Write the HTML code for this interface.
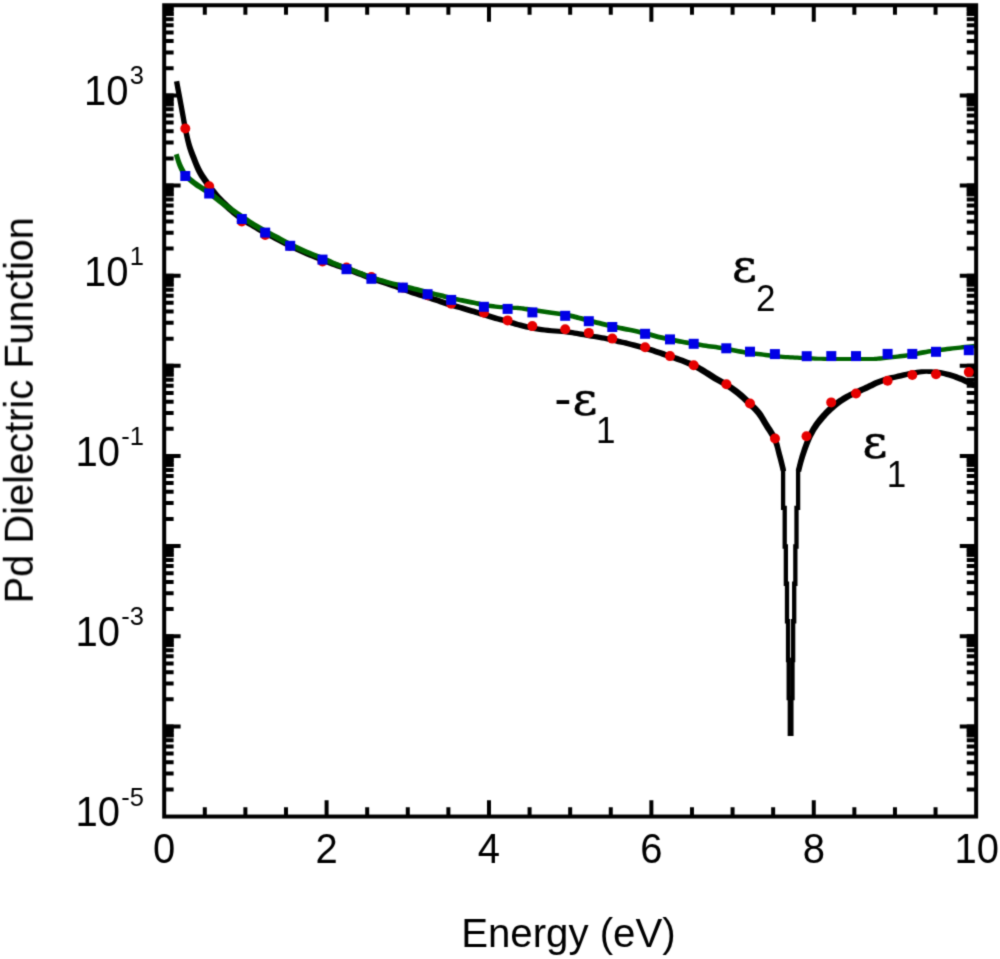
<!DOCTYPE html>
<html lang="en">
<head>
<meta charset="utf-8">
<title>Pd Dielectric Function</title>
<style>
html,body{margin:0;padding:0;background:#fff;}
body{width:1000px;height:959px;overflow:hidden;}
svg{display:block;}
</style>
</head>
<body>
<svg width="1000" height="959" viewBox="0 0 1000 959">
<rect width="1000" height="959" fill="#fff"/>
<defs><filter id="soft" x="0" y="0" width="1000" height="959" filterUnits="userSpaceOnUse" color-interpolation-filters="sRGB"><feConvolveMatrix order="3" divisor="1" edgeMode="duplicate" preserveAlpha="false" kernelMatrix="0.02560 0.10880 0.02560 0.10880 0.46240 0.10880 0.02560 0.10880 0.02560"/></filter></defs>
<g filter="url(#soft)">
<path d="M204.8 816.55v-9.4M204.8 5.25v9.4M245.39 816.55v-9.4M245.39 5.25v9.4M285.99 816.55v-9.4M285.99 5.25v9.4M326.59 816.55v-16.4M326.59 5.25v16.4M367.19 816.55v-9.4M367.19 5.25v9.4M407.79 816.55v-9.4M407.79 5.25v9.4M448.38 816.55v-9.4M448.38 5.25v9.4M488.98 816.55v-16.4M488.98 5.25v16.4M529.58 816.55v-9.4M529.58 5.25v9.4M570.17 816.55v-9.4M570.17 5.25v9.4M610.77 816.55v-9.4M610.77 5.25v9.4M651.37 816.55v-16.4M651.37 5.25v16.4M691.97 816.55v-9.4M691.97 5.25v9.4M732.57 816.55v-9.4M732.57 5.25v9.4M773.16 816.55v-9.4M773.16 5.25v9.4M813.76 816.55v-16.4M813.76 5.25v16.4M854.36 816.55v-9.4M854.36 5.25v9.4M894.96 816.55v-9.4M894.96 5.25v9.4M935.55 816.55v-9.4M935.55 5.25v9.4M164.2 789.41h9.4M976.15 789.41h-9.4M164.2 773.54h9.4M976.15 773.54h-9.4M164.2 762.28h9.4M976.15 762.28h-9.4M164.2 753.54h9.4M976.15 753.54h-9.4M164.2 746.4h9.4M976.15 746.4h-9.4M164.2 740.37h9.4M976.15 740.37h-9.4M164.2 735.14h9.4M976.15 735.14h-9.4M164.2 730.53h9.4M976.15 730.53h-9.4M164.2 726.41h16.4M976.15 726.41h-16.4M164.2 699.27h9.4M976.15 699.27h-9.4M164.2 683.4h9.4M976.15 683.4h-9.4M164.2 672.13h9.4M976.15 672.13h-9.4M164.2 663.4h9.4M976.15 663.4h-9.4M164.2 656.26h9.4M976.15 656.26h-9.4M164.2 650.22h9.4M976.15 650.22h-9.4M164.2 645h9.4M976.15 645h-9.4M164.2 640.39h9.4M976.15 640.39h-9.4M164.2 636.26h16.4M976.15 636.26h-16.4M164.2 609.12h9.4M976.15 609.12h-9.4M164.2 593.25h9.4M976.15 593.25h-9.4M164.2 581.99h9.4M976.15 581.99h-9.4M164.2 573.25h9.4M976.15 573.25h-9.4M164.2 566.12h9.4M976.15 566.12h-9.4M164.2 560.08h9.4M976.15 560.08h-9.4M164.2 554.85h9.4M976.15 554.85h-9.4M164.2 550.24h9.4M976.15 550.24h-9.4M164.2 546.12h16.4M976.15 546.12h-16.4M164.2 518.98h9.4M976.15 518.98h-9.4M164.2 503.11h9.4M976.15 503.11h-9.4M164.2 491.84h9.4M976.15 491.84h-9.4M164.2 483.11h9.4M976.15 483.11h-9.4M164.2 475.97h9.4M976.15 475.97h-9.4M164.2 469.94h9.4M976.15 469.94h-9.4M164.2 464.71h9.4M976.15 464.71h-9.4M164.2 460.1h9.4M976.15 460.1h-9.4M164.2 455.97h16.4M976.15 455.97h-16.4M164.2 428.84h9.4M976.15 428.84h-9.4M164.2 412.96h9.4M976.15 412.96h-9.4M164.2 401.7h9.4M976.15 401.7h-9.4M164.2 392.96h9.4M976.15 392.96h-9.4M164.2 385.83h9.4M976.15 385.83h-9.4M164.2 379.79h9.4M976.15 379.79h-9.4M164.2 374.56h9.4M976.15 374.56h-9.4M164.2 369.95h9.4M976.15 369.95h-9.4M164.2 365.83h16.4M976.15 365.83h-16.4M164.2 338.69h9.4M976.15 338.69h-9.4M164.2 322.82h9.4M976.15 322.82h-9.4M164.2 311.56h9.4M976.15 311.56h-9.4M164.2 302.82h9.4M976.15 302.82h-9.4M164.2 295.68h9.4M976.15 295.68h-9.4M164.2 289.65h9.4M976.15 289.65h-9.4M164.2 284.42h9.4M976.15 284.42h-9.4M164.2 279.81h9.4M976.15 279.81h-9.4M164.2 275.68h16.4M976.15 275.68h-16.4M164.2 248.55h9.4M976.15 248.55h-9.4M164.2 232.67h9.4M976.15 232.67h-9.4M164.2 221.41h9.4M976.15 221.41h-9.4M164.2 212.68h9.4M976.15 212.68h-9.4M164.2 205.54h9.4M976.15 205.54h-9.4M164.2 199.5h9.4M976.15 199.5h-9.4M164.2 194.27h9.4M976.15 194.27h-9.4M164.2 189.66h9.4M976.15 189.66h-9.4M164.2 185.54h16.4M976.15 185.54h-16.4M164.2 158.4h9.4M976.15 158.4h-9.4M164.2 142.53h9.4M976.15 142.53h-9.4M164.2 131.27h9.4M976.15 131.27h-9.4M164.2 122.53h9.4M976.15 122.53h-9.4M164.2 115.39h9.4M976.15 115.39h-9.4M164.2 109.36h9.4M976.15 109.36h-9.4M164.2 104.13h9.4M976.15 104.13h-9.4M164.2 99.52h9.4M976.15 99.52h-9.4M164.2 95.39h16.4M976.15 95.39h-16.4M164.2 68.26h9.4M976.15 68.26h-9.4M164.2 52.38h9.4M976.15 52.38h-9.4M164.2 41.12h9.4M976.15 41.12h-9.4M164.2 32.39h9.4M976.15 32.39h-9.4M164.2 25.25h9.4M976.15 25.25h-9.4M164.2 19.21h9.4M976.15 19.21h-9.4M164.2 13.99h9.4M976.15 13.99h-9.4M164.2 9.37h9.4M976.15 9.37h-9.4" stroke="#000" stroke-width="4.0" fill="none"/>
<path d="M164.2 724.41h9.4v12.74h-9.4zM976.15 724.41h-9.4v12.74h9.4zM164.2 634.26h9.4v12.74h-9.4zM976.15 634.26h-9.4v12.74h9.4zM164.2 544.12h9.4v12.74h-9.4zM976.15 544.12h-9.4v12.74h9.4zM164.2 453.97h9.4v12.74h-9.4zM976.15 453.97h-9.4v12.74h9.4zM164.2 363.83h9.4v12.74h-9.4zM976.15 363.83h-9.4v12.74h9.4zM164.2 273.68h9.4v12.74h-9.4zM976.15 273.68h-9.4v12.74h9.4zM164.2 183.54h9.4v12.74h-9.4zM976.15 183.54h-9.4v12.74h9.4zM164.2 93.39h9.4v12.74h-9.4zM976.15 93.39h-9.4v12.74h9.4zM164.2 5.25h9.4v10.74h-9.4zM976.15 5.25h-9.4v10.74h9.4z" fill="#000"/>
<g fill="none" stroke-linejoin="round" stroke-linecap="butt">
<path d="M173.97 81.79L174.39 84.1L175 87.38L175.7 91.18L176.41 95.07L177.06 98.59L177.64 101.71L178.21 104.74L178.76 107.72L179.31 110.68L179.87 113.69L180.42 116.69L180.95 119.71L181.48 122.76L182.03 125.86L182.64 129.05L183.32 132.33L184.03 135.75L184.78 139.2L185.56 142.58L186.37 145.78L187.21 148.74L188.1 151.5L189.04 154.13L190.01 156.7L191.02 159.29L192.07 161.96L193.15 164.71L194.27 167.46L195.43 170.15L196.65 172.73L198 175.25L199.47 177.63L200.92 179.82L202.25 181.76L203.33 183.34L204.08 184.48L204.56 185.25L205.02 186L205.65 186.93L206.64 188.25L208.02 190.08L209.72 192.32L211.63 194.8L213.68 197.34L215.8 199.79L217.94 202.08L220.18 204.34L222.49 206.58L224.86 208.78L227.25 210.93L229.7 213.06L232.22 215.18L234.79 217.25L237.37 219.24L239.94 221.11L242.54 222.84L245.1 224.43L247.61 225.91L250.05 227.32L252.38 228.71L254.67 230.07L256.88 231.38L259.08 232.65L261.33 233.93L263.69 235.24L266.21 236.58L268.8 237.93L271.43 239.29L274.03 240.63L276.56 241.95L278.95 243.23L281.28 244.48L283.64 245.73L286.12 247.02L288.84 248.36L291.77 249.79L294.91 251.29L298.17 252.82L301.49 254.33L304.8 255.78L308.19 257.17L311.65 258.55L315.09 259.89L318.37 261.17L321.38 262.38L324.09 263.49L326.59 264.54L328.98 265.53L331.34 266.47L333.76 267.37L336.21 268.22L338.59 268.99L340.9 269.75L343.19 270.53L345.48 271.37L347.85 272.28L350.27 273.24L352.72 274.22L355.21 275.2L357.73 276.17L360.11 277.11L362.44 278.03L364.85 278.95L367.47 279.92L370.42 280.97L373.9 282.14L377.77 283.42L381.78 284.74L385.65 286.01L389.07 287.16L392.02 288.16L394.67 289.06L397.12 289.91L399.46 290.73L401.81 291.57L404.05 292.43L406.2 293.27L408.35 294.1L410.61 294.93L413.06 295.76L415.71 296.59L418.47 297.42L421.28 298.26L424.06 299.11L426.72 299.95L429.35 300.81L431.97 301.67L434.55 302.52L437.07 303.36L439.49 304.16L441.75 304.93L443.92 305.68L446.04 306.39L448.18 307.08L450.36 307.75L452.57 308.36L454.73 308.94L456.87 309.51L459.02 310.1L461.21 310.74L463.54 311.43L465.99 312.17L468.46 312.92L470.88 313.65L473.17 314.34L475.26 314.97L477.2 315.56L479.08 316.13L481 316.72L483.06 317.35L485.26 318.04L487.57 318.77L489.96 319.51L492.38 320.24L494.82 320.93L497.28 321.59L499.75 322.22L502.2 322.85L504.57 323.49L506.82 324.13L508.86 324.79L510.79 325.43L512.76 326.06L514.88 326.69L517.27 327.32L519.86 328L522.65 328.7L525.58 329.4L528.61 330.06L531.69 330.65L534.77 331.18L537.92 331.68L541.13 332.14L544.39 332.55L547.71 332.93L551.23 333.22L554.87 333.48L558.49 333.72L561.9 333.99L564.94 334.31L567.57 334.64L569.88 334.96L572.01 335.29L574.13 335.64L576.38 336L578.69 336.43L581.01 336.88L583.39 337.33L585.83 337.79L588.34 338.22L590.98 338.65L593.71 339.09L596.45 339.54L599.09 339.99L601.53 340.43L603.78 340.85L605.91 341.26L607.91 341.66L609.8 342.07L611.6 342.48L613.24 342.91L614.76 343.33L616.24 343.74L617.75 344.13L619.35 344.5L620.87 344.8L622.21 345.06L623.56 345.36L625.18 345.75L627.31 346.31L630.2 347.07L633.66 347.99L637.39 348.99L641.05 350L644.32 350.93L647.15 351.78L649.76 352.58L652.23 353.37L654.65 354.15L657.09 354.96L659.51 355.79L661.89 356.63L664.26 357.48L666.63 358.32L669.03 359.17L671.46 359.99L673.87 360.81L676.26 361.64L678.62 362.49L680.95 363.37L683.33 364.28L685.7 365.21L688.02 366.17L690.26 367.15L692.37 368.17L694.33 369.19L696.18 370.23L698.01 371.32L699.92 372.47L701.97 373.71L704.09 375.03L706.33 376.47L708.65 377.96L711 379.46L713.36 380.9L715.72 382.25L718.02 383.53L720.26 384.78L722.47 386.08L724.68 387.47L727.01 389L729.37 390.6L731.73 392.27L734.07 394L736.36 395.81L738.66 397.76L741.01 399.86L743.35 402.03L745.61 404.19L747.74 406.24L749.72 408.13L751.53 409.86L753.19 411.51L754.74 413.18L756.25 414.98L757.68 416.91L759.06 419L760.43 421.27L761.85 423.72L763.4 426.35L765.17 429.17L767.06 432.07L768.94 434.99L770.67 437.84L772.13 440.54L773.29 443.19L774.24 445.91L775.04 448.73L775.75 451.64L776.47 454.65L777.31 457.72L778.17 460.99L778.98 464.18L779.67 466.99L780.2 469.15L780.54 470.43L780.76 471L781.05 470.99L781 471.01L780.77 471.77L786.03 470.83L785.77 471.2L785.73 470.91L785.95 470.21L785.88 469.29L785.6 467.85L785.07 465.68L784.38 462.84L783.59 459.62L782.75 456.3L781.93 453.15L781.15 450.32L780.44 447.39L779.7 444.37L778.82 441.25L777.67 438.06L776.14 434.82L774.32 431.66L772.4 428.6L770.5 425.7L768.8 423.05L767.28 420.54L765.86 418.1L764.45 415.7L762.98 413.34L761.35 411.02L759.62 408.9L757.86 406.98L756.06 405.19L754.2 403.42L752.26 401.56L750.12 399.5L747.81 397.3L745.39 395.06L742.92 392.86L740.44 390.79L737.96 388.87L735.47 387.05L732.98 385.32L730.52 383.69L728.12 382.13L725.69 380.66L723.33 379.32L721.05 378.06L718.82 376.8L716.64 375.5L714.39 374.09L712.09 372.61L709.77 371.12L707.47 369.66L705.23 368.29L703.18 367.06L701.22 365.89L699.26 364.78L697.22 363.69L695.03 362.63L692.7 361.6L690.31 360.62L687.88 359.66L685.45 358.73L683.05 357.83L680.61 356.95L678.18 356.11L675.76 355.29L673.35 354.47L670.97 353.63L668.6 352.79L666.23 351.94L663.84 351.1L661.41 350.26L658.91 349.44L656.44 348.64L653.98 347.86L651.45 347.09L648.78 346.29L645.88 345.47L642.56 344.55L638.86 343.55L635.11 342.55L631.61 341.64L628.69 340.89L626.44 340.37L624.71 340.02L623.29 339.74L622.02 339.46L620.65 339.1L619.18 338.7L617.72 338.29L616.21 337.89L614.58 337.5L612.8 337.12L610.92 336.74L608.97 336.36L606.92 335.97L604.76 335.58L602.47 335.17L599.97 334.76L597.3 334.33L594.56 333.88L591.84 333.43L589.26 332.98L586.81 332.51L584.4 332.05L582.01 331.6L579.62 331.17L577.22 330.8L574.96 330.44L572.79 330.12L570.57 329.83L568.17 329.56L565.46 329.29L562.29 329.06L558.83 328.83L555.22 328.57L551.65 328.26L548.29 327.87L545.05 327.45L541.87 326.98L538.75 326.48L535.7 325.94L532.71 325.35L529.78 324.71L526.86 324.01L524.01 323.29L521.28 322.57L518.73 321.88L516.52 321.2L514.53 320.55L512.59 319.91L510.58 319.29L508.38 318.67L506.02 318.05L503.6 317.43L501.16 316.8L498.74 316.14L496.38 315.47L494.04 314.75L491.67 314.01L489.3 313.26L486.98 312.54L484.74 311.85L482.67 311.23L480.74 310.64L478.85 310.07L476.91 309.48L474.83 308.86L472.55 308.16L470.13 307.43L467.64 306.68L465.17 305.95L462.79 305.26L460.51 304.65L458.32 304.07L456.2 303.49L454.11 302.9L452.04 302.25L449.97 301.57L447.91 300.87L445.81 300.15L443.63 299.41L441.31 298.64L438.9 297.84L436.38 297L433.78 296.15L431.14 295.29L428.48 294.45L425.73 293.61L422.92 292.78L420.14 291.94L417.45 291.09L414.94 290.24L412.65 289.39L410.49 288.56L408.36 287.72L406.16 286.88L403.79 286.03L401.41 285.2L399.03 284.38L396.55 283.54L393.89 282.64L390.93 281.64L387.47 280.49L383.59 279.22L379.6 277.91L375.76 276.62L372.38 275.43L369.51 274.38L366.98 273.41L364.62 272.48L362.3 271.56L359.87 270.63L357.41 269.65L354.93 268.67L352.46 267.69L349.98 266.73L347.52 265.83L345.07 265L342.71 264.23L340.4 263.48L338.12 262.69L335.84 261.83L333.55 260.91L331.27 259.97L328.91 258.99L326.39 257.94L323.62 256.82L320.54 255.62L317.25 254.34L313.85 253L310.46 251.62L307.2 250.22L303.99 248.78L300.75 247.28L297.55 245.76L294.46 244.26L291.56 242.84L288.95 241.51L286.54 240.23L284.22 238.99L281.89 237.74L279.44 236.45L276.88 235.12L274.27 233.78L271.67 232.43L269.13 231.09L266.71 229.76L264.41 228.47L262.23 227.21L260.07 225.95L257.89 224.65L255.62 223.29L253.21 221.89L250.79 220.48L248.38 219.03L246 217.51L243.66 215.89L241.26 214.1L238.81 212.19L236.35 210.19L233.92 208.14L231.55 206.07L229.24 203.99L226.97 201.86L224.75 199.72L222.62 197.56L220.6 195.41L218.65 193.18L216.7 190.79L214.84 188.41L213.17 186.21L211.76 184.35L210.83 183.12L210.31 182.42L209.93 181.89L209.45 181.11L208.67 179.86L207.52 178.13L206.2 176.21L204.8 174.15L203.42 172.01L202.15 169.87L200.97 167.57L199.82 165.08L198.7 162.46L197.62 159.78L196.58 157.11L195.56 154.54L194.59 152.04L193.64 149.54L192.72 146.96L191.83 144.22L190.97 141.21L190.16 137.96L189.38 134.59L188.65 131.22L187.96 127.95L187.32 124.86L186.74 121.81L186.19 118.79L185.67 115.77L185.13 112.71L184.58 109.71L184.03 106.74L183.48 103.76L182.92 100.74L182.34 97.61L181.68 94.09L180.97 90.21L180.27 86.41L179.66 83.13L179.23 80.81Z" fill="#000" stroke="none"/>
<path d="M801.11 471.99L801.51 470.32L802.07 468.01L802.75 465.33L803.49 462.56L804.24 460L805 457.54L805.82 455.02L806.67 452.49L807.52 450.04L808.37 447.7L809.19 445.5L810 443.42L810.82 441.43L811.67 439.5L812.57 437.61L813.52 435.73L814.5 433.88L815.52 432.08L816.57 430.33L817.67 428.63L818.81 427L820.02 425.37L821.27 423.76L822.54 422.19L823.79 420.67L825 419.25L826.2 417.9L827.39 416.59L828.6 415.33L829.81 414.09L831 412.9L832.15 411.79L833.31 410.71L834.53 409.63L835.86 408.5L837.34 407.29L838.93 406.04L840.58 404.79L842.24 403.58L843.85 402.46L845.43 401.43L847.03 400.45L848.65 399.52L850.28 398.62L851.92 397.75L853.47 396.95L855.03 396.2L856.64 395.48L858.31 394.74L860.07 393.97L861.84 393.16L863.66 392.34L865.52 391.49L867.41 390.64L869.3 389.77L871.22 388.87L873.09 387.94L874.93 387.01L876.74 386.12L878.55 385.28L880.46 384.48L882.41 383.72L884.4 382.99L886.4 382.3L888.42 381.64L890.37 381.04L892.3 380.51L894.31 380.02L896.46 379.52L898.82 378.99L901.46 378.38L904.32 377.71L907.26 377.03L910.13 376.39L912.78 375.83L915.25 375.38L917.56 374.95L919.75 374.58L921.91 374.25L924.11 374L926.41 373.85L928.76 373.94L931.12 374.12L933.45 374.35L935.71 374.63L937.86 374.97L939.94 375.38L941.99 375.84L944.06 376.35L946.2 376.91L948.41 377.58L950.74 378.32L953.07 379.11L955.32 379.91L957.38 380.67L959.15 381.39L960.75 382.1L962.27 382.8L963.8 383.52L965.41 384.27L967.15 385.12L969.05 386.06L970.89 386.99L972.48 387.79L973.64 388.36L976.36 382.84L975.26 382.28L973.67 381.47L971.79 380.54L969.84 379.59L967.99 378.73L966.38 377.98L964.8 377.26L963.15 376.55L961.38 375.84L959.42 375.13L957.27 374.37L954.93 373.59L952.48 372.82L950.01 372.1L947.6 371.49L945.34 370.96L943.11 370.5L940.89 370.12L938.62 369.81L936.29 369.57L933.89 369.38L931.41 369.25L928.9 369.2L926.39 369.23L923.89 369.2L921.45 369.27L919.08 369.46L916.72 369.75L914.32 370.13L911.82 370.57L909.03 371.07L906.07 371.68L903.09 372.34L900.21 373L897.58 373.61L895.24 374.15L893.07 374.64L890.98 375.11L888.91 375.6L886.78 376.16L884.64 376.79L882.51 377.46L880.4 378.18L878.31 378.93L876.25 379.72L874.19 380.58L872.22 381.49L870.32 382.42L868.49 383.34L866.7 384.23L864.86 385.09L863 385.95L861.15 386.79L859.32 387.62L857.53 388.43L855.86 389.2L854.2 389.93L852.53 390.65L850.83 391.41L849.08 392.25L847.37 393.13L845.64 394.04L843.88 395.01L842.12 396.04L840.35 397.14L838.56 398.33L836.77 399.61L835.01 400.92L833.32 402.23L831.74 403.5L830.29 404.71L828.95 405.89L827.68 407.07L826.44 408.26L825.19 409.51L823.91 410.81L822.64 412.16L821.37 413.55L820.09 415.01L818.81 416.53L817.52 418.1L816.2 419.76L814.87 421.49L813.57 423.3L812.33 425.17L811.17 427.05L810.07 428.98L809.01 430.95L808 432.95L807.03 434.99L806.12 437.06L805.27 439.15L804.45 441.26L803.65 443.44L802.83 445.7L801.99 448.11L801.14 450.64L800.31 453.24L799.51 455.84L798.76 458.4L798.05 461.11L797.33 463.97L796.67 466.69L796.11 469L795.69 470.61Z" fill="#000" stroke="none"/>
<path d="M782.9 468.5L783.1 471.3L783.1 507.8L784.7 507.8L784.7 546.5L785.85 546.5L785.85 583.75L787 583.75L787 621.25L788.05 621.25L788.05 660L788.7 660L788.7 698L789.8 698L789.8 736" stroke="#000" stroke-width="4.3" stroke-linejoin="miter"/>
<path d="M801.5 459.2L798.1 471.3L798.1 507.8L796.5 507.8L796.5 546.5L795.35 546.5L795.35 583.75L794.2 583.75L794.2 621.25L793.15 621.25L793.15 660L792.5 660L792.5 698L791.4 698L791.4 736" stroke="#000" stroke-width="4.3" stroke-linejoin="miter"/>
</g>
<g fill="rgb(230,0,0)">
<circle cx="185.3" cy="128.5" r="5.0"/>
<circle cx="209.2" cy="186.3" r="5.0"/>
<circle cx="241.8" cy="221.4" r="5.0"/>
<circle cx="265.2" cy="235" r="5.0"/>
<circle cx="290.2" cy="246" r="5.0"/>
<circle cx="322.5" cy="261.5" r="5.0"/>
<circle cx="346.5" cy="267.5" r="5.0"/>
<circle cx="371.4" cy="277" r="5.0"/>
<circle cx="402.8" cy="287.8" r="5.0"/>
<circle cx="427.6" cy="295.2" r="5.0"/>
<circle cx="451.2" cy="303.8" r="5.0"/>
<circle cx="483.9" cy="312.8" r="5.0"/>
<circle cx="507.6" cy="320.4" r="5.0"/>
<circle cx="532.3" cy="326.1" r="5.0"/>
<circle cx="565.2" cy="329.2" r="5.0"/>
<circle cx="588.8" cy="332.9" r="5.0"/>
<circle cx="612.3" cy="338.6" r="5.0"/>
<circle cx="645.1" cy="347.2" r="5.0"/>
<circle cx="670" cy="356.1" r="5.0"/>
<circle cx="693.7" cy="365.2" r="5.0"/>
<circle cx="726.4" cy="384.3" r="5.0"/>
<circle cx="750" cy="403.5" r="5.0"/>
<circle cx="775" cy="438.5" r="5.0"/>
<circle cx="806.5" cy="436.3" r="5.0"/>
<circle cx="831.2" cy="402.4" r="5.0"/>
<circle cx="856" cy="393.5" r="5.0"/>
<circle cx="887.6" cy="380.8" r="5.0"/>
<circle cx="912.3" cy="375" r="5.0"/>
<circle cx="936" cy="374.2" r="5.0"/>
<circle cx="968.8" cy="372.1" r="5.0"/>
</g>
<path d="M173.9 155.08L174.35 156.41L174.93 158.41L175.63 160.8L176.42 163.31L177.29 165.74L178.22 167.91L179.24 170.17L180.36 172.45L181.63 174.7L183.09 176.84L184.82 178.81L186.69 180.55L188.58 182.1L190.41 183.52L192.05 184.8L193.7 186.04L195.28 187.14L196.79 188.15L198.27 189.12L199.76 190.11L201.34 191.11L202.85 192.04L204.35 192.97L205.89 193.99L207.57 195.17L209.5 196.6L211.63 198.25L213.87 200L216.12 201.76L218.31 203.44L220.34 204.96L222.3 206.43L224.25 207.88L226.25 209.34L228.38 210.87L230.63 212.47L232.98 214.11L235.38 215.78L237.82 217.45L240.25 219.1L242.68 220.74L245.16 222.4L247.66 224.04L250.13 225.63L252.56 227.14L254.88 228.53L257.12 229.82L259.32 231.06L261.56 232.3L263.89 233.58L266.38 234.93L268.97 236.3L271.59 237.68L274.2 239.05L276.74 240.39L279.14 241.68L281.47 242.93L283.83 244.18L286.31 245.46L289.02 246.8L291.95 248.23L295.08 249.73L298.33 251.26L301.65 252.77L304.95 254.21L308.34 255.6L311.81 256.97L315.23 258.3L318.5 259.58L321.49 260.81L324.17 261.99L326.66 263.11L329.03 264.2L331.4 265.23L333.83 266.21L336.28 267.12L338.66 267.94L340.98 268.74L343.28 269.55L345.6 270.41L347.98 271.33L350.41 272.29L352.87 273.26L355.36 274.24L357.87 275.21L360.23 276.16L362.56 277.11L364.98 278.05L367.62 279.01L370.62 280L374.1 281.07L377.99 282.21L382.02 283.36L385.9 284.44L389.37 285.37L392.38 286.11L395.08 286.72L397.56 287.26L399.91 287.78L402.23 288.35L404.53 288.91L406.7 289.45L408.83 289.99L411.03 290.55L413.39 291.16L415.95 291.84L418.67 292.58L421.47 293.33L424.27 294.07L427.01 294.75L429.69 295.38L432.34 295.99L434.93 296.58L437.44 297.16L439.82 297.75L442.07 298.34L444.22 298.93L446.34 299.5L448.47 300.04L450.66 300.54L452.85 301L455 301.42L457.14 301.84L459.31 302.26L461.53 302.71L463.9 303.18L466.36 303.67L468.83 304.16L471.25 304.64L473.52 305.11L475.57 305.57L477.5 306.01L479.4 306.43L481.37 306.82L483.5 307.18L485.75 307.55L488.09 307.9L490.5 308.23L492.93 308.53L495.36 308.79L497.81 309L500.3 309.17L502.76 309.33L505.17 309.47L507.47 309.62L509.75 309.71L512 309.8L514.15 309.88L516.12 309.99L517.84 310.13L519.24 310.28L520.35 310.44L521.34 310.6L522.4 310.76L523.69 310.93L525.06 311.16L526.48 311.4L528.04 311.65L529.87 311.93L532.07 312.24L534.72 312.61L537.73 313.03L540.99 313.48L544.35 313.96L547.67 314.44L551.17 314.96L554.93 315.52L558.65 316.09L562.05 316.61L564.83 317.07L566.83 317.41L568.23 317.68L569.27 317.91L570.26 318.15L571.47 318.44L572.79 318.78L574.11 319.15L575.48 319.53L576.95 319.94L578.57 320.37L580.25 320.84L582.04 321.33L583.94 321.85L585.98 322.39L588.2 322.96L590.68 323.56L593.4 324.22L596.2 324.89L598.93 325.54L601.43 326.15L603.65 326.7L605.73 327.22L607.71 327.71L609.67 328.18L611.66 328.64L613.63 329.07L615.54 329.48L617.45 329.88L619.43 330.28L621.52 330.71L623.82 331.16L626.24 331.63L628.71 332.12L631.15 332.61L633.5 333.12L635.73 333.62L637.88 334.12L640.02 334.64L642.2 335.17L644.51 335.75L646.95 336.41L649.53 337.11L652.18 337.83L654.83 338.52L657.43 339.15L659.93 339.71L662.36 340.23L664.76 340.73L667.14 341.22L669.52 341.72L671.93 342.21L674.34 342.7L676.76 343.19L679.17 343.65L681.57 344.09L683.95 344.51L686.28 344.9L688.61 345.29L690.95 345.68L693.32 346.07L695.74 346.48L698.21 346.89L700.7 347.29L703.2 347.68L705.67 348.05L708.18 348.38L710.71 348.7L713.19 349.01L715.54 349.33L717.67 349.65L719.51 349.93L721.08 350.19L722.56 350.45L724.13 350.75L725.97 351.09L728.11 351.53L730.48 352.03L732.98 352.54L735.51 353.04L737.98 353.49L740.31 353.9L742.6 354.29L744.9 354.66L747.25 355L749.69 355.33L752.3 355.63L755 355.92L757.72 356.21L760.39 356.5L762.93 356.81L765.32 357.13L767.61 357.45L769.89 357.76L772.22 358.04L774.67 358.29L777.25 358.52L779.92 358.75L782.62 358.96L785.29 359.15L787.85 359.33L790.25 359.46L792.51 359.56L794.73 359.66L797.05 359.76L799.59 359.9L802.4 360.06L805.4 360.23L808.53 360.4L811.72 360.55L814.92 360.67L817.98 360.78L820.95 360.87L824.03 360.93L827.38 360.98L831.18 361.02L835.74 361.03L840.94 361.03L846.31 361.02L851.42 361.01L855.8 361L859.4 361.01L862.52 361.02L865.26 361.02L867.73 361.03L870.03 361.03L872 361L873.6 360.99L875.04 360.98L876.5 360.93L878.17 360.84L880.06 360.71L882.01 360.53L884.02 360.3L886.1 360.05L888.24 359.79L890.49 359.54L892.87 359.3L895.32 359.05L897.8 358.79L900.27 358.51L902.69 358.22L905.11 357.92L907.57 357.61L910.08 357.26L912.68 356.87L915.47 356.4L918.37 355.84L921.27 355.24L924.02 354.67L926.48 354.17L928.59 353.8L930.42 353.52L932.19 353.3L934.08 353.08L936.3 352.83L938.87 352.48L941.68 352.09L944.61 351.69L947.52 351.28L950.27 350.91L952.87 350.59L955.39 350.29L957.88 350.02L960.35 349.75L962.84 349.49L965.52 349.2L968.4 348.9L971.17 348.61L973.54 348.36L975.23 348.19L974.77 343.81L973.09 343.99L970.72 344.24L967.94 344.53L965.06 344.83L962.36 345.11L959.88 345.38L957.41 345.64L954.91 345.91L952.36 346.18L949.73 346.49L946.93 346.83L944 347.22L941.06 347.62L938.25 348.02L935.7 348.37L933.56 348.67L931.68 348.89L929.87 349.09L927.94 349.32L925.72 349.63L923.12 350.06L920.31 350.61L917.42 351.21L914.58 351.8L911.92 352.33L909.4 352.76L906.95 353.14L904.54 353.48L902.14 353.79L899.73 354.09L897.3 354.39L894.85 354.67L892.42 354.93L890.04 355.17L887.76 355.41L885.58 355.64L883.5 355.89L881.51 356.13L879.62 356.36L877.83 356.56L876.24 356.7L874.86 356.81L873.5 356.89L871.93 356.94L869.97 356.97L867.71 357.01L865.27 357.02L862.53 357.01L859.41 357L855.8 357L851.41 357L846.3 357.01L840.93 357.03L835.75 357.02L831.22 356.98L827.44 356.92L824.12 356.84L821.07 356.75L818.12 356.64L815.08 356.53L811.92 356.37L808.76 356.2L805.64 356.02L802.63 355.85L799.81 355.7L797.25 355.59L794.92 355.48L792.71 355.37L790.49 355.24L788.15 355.07L785.6 354.88L782.96 354.67L780.29 354.44L777.66 354.18L775.13 353.91L772.77 353.61L770.49 353.3L768.23 352.99L765.91 352.68L763.47 352.39L760.87 352.11L758.18 351.83L755.48 351.54L752.82 351.22L750.31 350.87L747.92 350.5L745.63 350.13L743.38 349.74L741.13 349.33L738.82 348.91L736.42 348.43L733.93 347.91L731.44 347.4L729.04 346.92L726.83 346.51L724.96 346.17L723.34 345.9L721.81 345.66L720.2 345.42L718.33 345.15L716.13 344.87L713.76 344.58L711.28 344.26L708.78 343.92L706.33 343.55L703.9 343.17L701.44 342.76L698.97 342.35L696.51 341.93L694.08 341.53L691.7 341.14L689.37 340.75L687.06 340.35L684.75 339.94L682.43 339.51L680.06 339.05L677.68 338.57L675.28 338.08L672.88 337.58L670.48 337.08L668.09 336.59L665.73 336.1L663.37 335.58L660.99 335.04L658.57 334.45L656.06 333.8L653.46 333.09L650.82 332.37L648.21 331.68L645.69 331.05L643.35 330.48L641.13 329.95L638.96 329.45L636.77 328.96L634.5 328.48L632.09 327.99L629.61 327.51L627.13 327.03L624.73 326.55L622.48 326.09L620.39 325.65L618.43 325.24L616.54 324.83L614.67 324.41L612.74 323.96L610.8 323.49L608.87 323.01L606.9 322.52L604.82 322L602.57 321.45L600.06 320.85L597.32 320.2L594.53 319.52L591.83 318.86L589.4 318.24L587.24 317.67L585.23 317.11L583.35 316.59L581.56 316.09L579.83 315.63L578.25 315.2L576.78 314.79L575.37 314.42L573.97 314.08L572.53 313.76L571.3 313.49L570.23 313.28L569.07 313.09L567.6 312.86L565.57 312.53L562.75 312.1L559.33 311.58L555.6 311.03L551.84 310.47L548.33 309.96L544.98 309.48L541.61 309.01L538.36 308.56L535.35 308.14L532.73 307.76L530.57 307.42L528.77 307.12L527.21 306.87L525.76 306.65L524.31 306.47L523.04 306.28L521.94 306.14L520.85 306.04L519.64 305.95L518.16 305.87L516.33 305.8L514.32 305.73L512.17 305.64L509.95 305.53L507.73 305.38L505.43 305.24L503.04 305.09L500.61 304.9L498.2 304.68L495.84 304.41L493.49 304.1L491.13 303.76L488.78 303.39L486.49 303.01L484.3 302.62L482.3 302.2L480.42 301.78L478.55 301.35L476.6 300.92L474.48 300.49L472.18 300.03L469.75 299.55L467.27 299.05L464.82 298.57L462.47 298.09L460.21 297.65L458.04 297.23L455.93 296.8L453.84 296.35L451.74 295.86L449.67 295.33L447.61 294.77L445.5 294.2L443.31 293.62L440.98 293.05L438.53 292.48L435.99 291.91L433.41 291.32L430.8 290.7L428.19 290.05L425.51 289.34L422.74 288.6L419.94 287.84L417.21 287.11L414.61 286.44L412.23 285.84L410.02 285.28L407.86 284.74L405.68 284.21L403.37 283.65L400.96 283.12L398.58 282.6L396.14 282.05L393.53 281.41L390.63 280.63L387.21 279.69L383.36 278.61L379.38 277.45L375.56 276.29L372.18 275.2L369.36 274.19L366.85 273.22L364.5 272.28L362.18 271.34L359.73 270.39L357.26 269.42L354.78 268.44L352.31 267.46L349.85 266.51L347.4 265.59L344.98 264.73L342.63 263.93L340.33 263.13L338.06 262.3L335.77 261.39L333.49 260.4L331.22 259.37L328.85 258.29L326.3 257.16L323.51 255.99L320.41 254.76L317.11 253.47L313.7 252.14L310.3 250.78L307.05 249.39L303.83 247.94L300.58 246.44L297.38 244.92L294.29 243.42L291.38 242L288.77 240.67L286.35 239.4L284.03 238.15L281.7 236.9L279.26 235.61L276.71 234.27L274.1 232.9L271.5 231.52L268.95 230.16L266.51 228.82L264.19 227.54L261.98 226.31L259.83 225.09L257.68 223.82L255.44 222.46L253.1 220.98L250.69 219.41L248.24 217.78L245.78 216.14L243.35 214.5L240.95 212.87L238.55 211.21L236.17 209.55L233.85 207.92L231.62 206.33L229.54 204.82L227.57 203.38L225.65 201.94L223.71 200.49L221.69 198.96L219.57 197.33L217.33 195.58L215.07 193.82L212.88 192.14L210.83 190.63L208.96 189.37L207.28 188.3L205.73 187.35L204.27 186.44L202.84 185.49L201.31 184.49L199.85 183.53L198.43 182.56L197.01 181.54L195.55 180.4L193.83 179.07L192.08 177.71L190.39 176.29L188.84 174.84L187.51 173.36L186.29 171.71L185.13 169.85L184.05 167.83L183.04 165.75L182.11 163.66L181.23 161.6L180.41 159.28L179.69 157.01L179.11 155.02L178.7 153.52Z" fill="rgb(0,100,0)" stroke="none"/>
<g fill="rgb(0,0,230)">
<rect x="180.3" y="171" width="10.0" height="10.0"/>
<rect x="204.2" y="188.5" width="10.0" height="10.0"/>
<rect x="236.8" y="214" width="10.0" height="10.0"/>
<rect x="260.2" y="227.6" width="10.0" height="10.0"/>
<rect x="285.2" y="240.8" width="10.0" height="10.0"/>
<rect x="317.5" y="254.6" width="10.0" height="10.0"/>
<rect x="341.5" y="264.2" width="10.0" height="10.0"/>
<rect x="366.4" y="273.8" width="10.0" height="10.0"/>
<rect x="397.8" y="282.6" width="10.0" height="10.0"/>
<rect x="422.6" y="289.2" width="10.0" height="10.0"/>
<rect x="446.2" y="294.9" width="10.0" height="10.0"/>
<rect x="478.9" y="301.8" width="10.0" height="10.0"/>
<rect x="502.6" y="303.9" width="10.0" height="10.0"/>
<rect x="527.4" y="307.4" width="10.0" height="10.0"/>
<rect x="560.2" y="310.8" width="10.0" height="10.0"/>
<rect x="583.8" y="316.2" width="10.0" height="10.0"/>
<rect x="607.3" y="322" width="10.0" height="10.0"/>
<rect x="640.1" y="328.8" width="10.0" height="10.0"/>
<rect x="665" y="334.4" width="10.0" height="10.0"/>
<rect x="688.7" y="338.8" width="10.0" height="10.0"/>
<rect x="721.3" y="343.3" width="10.0" height="10.0"/>
<rect x="745" y="346.7" width="10.0" height="10.0"/>
<rect x="769.9" y="349.1" width="10.0" height="10.0"/>
<rect x="801.7" y="351.2" width="10.0" height="10.0"/>
<rect x="826.3" y="351.1" width="10.0" height="10.0"/>
<rect x="851" y="351.1" width="10.0" height="10.0"/>
<rect x="882.6" y="348.9" width="10.0" height="10.0"/>
<rect x="907.3" y="348.9" width="10.0" height="10.0"/>
<rect x="931" y="346.8" width="10.0" height="10.0"/>
<rect x="963.8" y="345.2" width="10.0" height="10.0"/>
</g>
<rect x="164.2" y="5.25" width="811.95" height="811.3" fill="none" stroke="#000" stroke-width="4.0"/>
<g font-family="'Liberation Sans', Arial, sans-serif" fill="#000">
<text transform="translate(144 105.29) scale(1 1.04)" text-anchor="end" font-size="40">10<tspan font-size="25.5" dx="1.3" dy="-20.1">3</tspan></text>
<text transform="translate(144 285.58) scale(1 1.04)" text-anchor="end" font-size="40">10<tspan font-size="25.5" dx="1.3" dy="-20.1">1</tspan></text>
<text transform="translate(144 465.87) scale(1 1.04)" text-anchor="end" font-size="40">10<tspan font-size="25.5" dx="1.3" dy="-20.1">-1</tspan></text>
<text transform="translate(144 646.16) scale(1 1.04)" text-anchor="end" font-size="40">10<tspan font-size="25.5" dx="1.3" dy="-20.1">-3</tspan></text>
<text transform="translate(144 826.45) scale(1 1.04)" text-anchor="end" font-size="40">10<tspan font-size="25.5" dx="1.3" dy="-20.1">-5</tspan></text>
<text transform="translate(164.2 863.4) scale(1 1.04)" text-anchor="middle" font-size="40">0</text>
<text transform="translate(326.59 863.4) scale(1 1.04)" text-anchor="middle" font-size="40">2</text>
<text transform="translate(488.98 863.4) scale(1 1.04)" text-anchor="middle" font-size="40">4</text>
<text transform="translate(651.37 863.4) scale(1 1.04)" text-anchor="middle" font-size="40">6</text>
<text transform="translate(813.76 863.4) scale(1 1.04)" text-anchor="middle" font-size="40">8</text>
<text transform="translate(976.85 863.4) scale(1 1.04)" text-anchor="middle" font-size="40">10</text>
<text transform="translate(461.2 947) scale(1 1.03)" font-size="40.2">Energy (eV)</text>
<text transform="translate(32.9 603.4) rotate(-90) scale(1 1.03)" font-size="39.85">Pd Dielectric <tspan letter-spacing="-0.18">Function</tspan></text>
<text transform="translate(732 281.6) scale(1.04 1)" font-size="46"><tspan font-family="'DejaVu Serif', serif" stroke="#000" stroke-width="0.5">ε</tspan></text>
<text transform="translate(755.9 310.6) scale(1 1.04)" font-size="35">2</text>
<text transform="translate(554.3 415) scale(1.04 1)" font-size="46"><tspan font-family="'Liberation Sans', sans-serif" font-size="50">-</tspan><tspan font-family="'DejaVu Serif', serif" stroke="#000" stroke-width="0.5" dx="0.8">ε</tspan></text>
<text transform="translate(595.9 443) scale(1 1.04)" font-size="35">1</text>
<text transform="translate(862.6 458) scale(1.04 1)" font-size="46"><tspan font-family="'DejaVu Serif', serif" stroke="#000" stroke-width="0.5">ε</tspan></text>
<text transform="translate(886.8 486.6) scale(1 1.04)" font-size="35">1</text>
</g>
</g>
</svg>
</body>
</html>
